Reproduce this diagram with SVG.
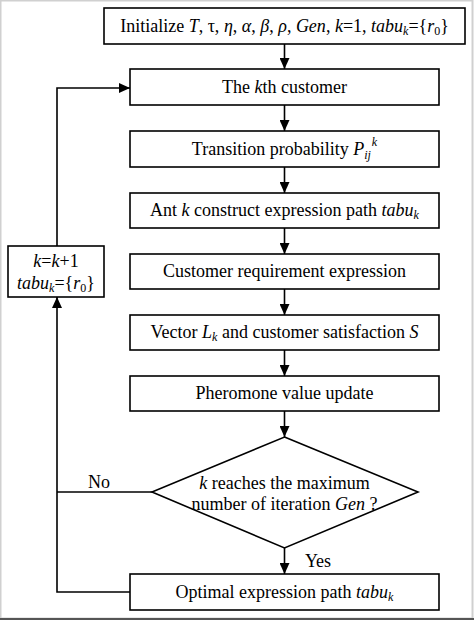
<svg xmlns="http://www.w3.org/2000/svg" width="474" height="620" viewBox="0 0 474 620">
<style>
.b{fill:#fff;stroke:#000;stroke-width:1.6}
.t{font-family:"Liberation Serif","Times New Roman",serif;font-size:18px;fill:#000;text-anchor:middle}
.i{font-style:italic}
.s{font-size:12px}
.c{fill:none;stroke:#000;stroke-width:1.6}
</style>
<defs>
<marker id="ah" markerWidth="11" markerHeight="10" refX="11" refY="5" orient="auto" markerUnits="userSpaceOnUse">
<path d="M0,0 L11,5 L0,10 Z" fill="#000"/>
</marker>
</defs>
<rect x="0" y="0" width="474" height="620" fill="#fff"/>
<rect x="0.5" y="0.5" width="472" height="618" fill="none" stroke="#d0d0d0" stroke-width="2"/>
<line x1="0" y1="619" x2="474" y2="619" stroke="#555" stroke-width="2"/>
<g id="connectors">
<line class="c" x1="284.5" y1="44" x2="284.5" y2="69" marker-end="url(#ah)"/>
<line class="c" x1="284.5" y1="105" x2="284.5" y2="131" marker-end="url(#ah)"/>
<line class="c" x1="284.5" y1="167" x2="284.5" y2="193" marker-end="url(#ah)"/>
<line class="c" x1="284.5" y1="228" x2="284.5" y2="254" marker-end="url(#ah)"/>
<line class="c" x1="284.5" y1="289" x2="284.5" y2="315" marker-end="url(#ah)"/>
<line class="c" x1="284.5" y1="350" x2="284.5" y2="376" marker-end="url(#ah)"/>
<line class="c" x1="284.5" y1="411" x2="284.5" y2="437" marker-end="url(#ah)"/>
<line class="c" x1="284.5" y1="548" x2="284.5" y2="574" marker-end="url(#ah)"/>
<polyline class="c" points="57,246 57,88 130,88" marker-end="url(#ah)"/>
<polyline class="c" points="130,592 57,592 57,297" marker-end="url(#ah)"/>
<line class="c" x1="57" y1="492" x2="152" y2="492"/>
<text class="t" x="99" y="488">No</text>
<text class="t" x="318" y="567">Yes</text>
</g>
<g id="init">
<rect class="b" x="104" y="8" width="361" height="36"/>
<text class="t" x="284.5" y="32">Initialize <tspan class="i">T</tspan>, τ, <tspan class="i">η</tspan>, <tspan class="i">α</tspan>, <tspan class="i">β</tspan>, <tspan class="i">ρ</tspan>, <tspan class="i">Gen</tspan>, <tspan class="i">k</tspan>=1, <tspan class="i">tabu</tspan><tspan class="i s" dy="3">k</tspan><tspan dy="-3">={</tspan><tspan class="i">r</tspan><tspan class="s" dy="3">0</tspan><tspan dy="-3">}</tspan></text>
</g>
<g id="kth">
<rect class="b" x="130" y="69" width="309" height="36"/>
<text class="t" x="284.5" y="93">The <tspan class="i">k</tspan>th customer</text>
</g>
<g id="transition">
<rect class="b" x="130" y="131" width="309" height="36"/>
<text class="t" x="284.5" y="155">Transition probability <tspan class="i">P</tspan><tspan class="i s" dy="4">ij</tspan><tspan class="i s" dx="1" dy="-13">k</tspan></text>
</g>
<g id="ant">
<rect class="b" x="130" y="193" width="309" height="35"/>
<text class="t" x="284.5" y="216">Ant <tspan class="i">k</tspan> construct expression path <tspan class="i">tabu</tspan><tspan class="i s" dy="3">k</tspan></text>
</g>
<g id="requirement">
<rect class="b" x="130" y="254" width="309" height="35"/>
<text class="t" x="284.5" y="277">Customer requirement expression</text>
</g>
<g id="vector">
<rect class="b" x="130" y="315" width="309" height="35"/>
<text class="t" x="284.5" y="338">Vector <tspan class="i">L</tspan><tspan class="i s" dy="3">k</tspan><tspan dy="-3"> and customer satisfaction </tspan><tspan class="i">S</tspan></text>
</g>
<g id="pheromone">
<rect class="b" x="130" y="376" width="309" height="35"/>
<text class="t" x="284.5" y="399">Pheromone value update</text>
</g>
<g id="decision">
<polygon class="b" points="284.5,437 418,492 284.5,548 152,492"/>
<text class="t" x="284.5" y="489"><tspan class="i">k</tspan> reaches the maximum</text>
<text class="t" x="284.5" y="510">number of iteration <tspan class="i">Gen</tspan> ?</text>
</g>
<g id="optimal">
<rect class="b" x="130" y="574" width="309" height="36"/>
<text class="t" x="284.5" y="598">Optimal expression path <tspan class="i">tabu</tspan><tspan class="i s" dy="3">k</tspan></text>
</g>
<g id="update">
<rect class="b" x="8" y="246" width="96" height="51"/>
<text class="t" x="56" y="267"><tspan class="i">k</tspan>=<tspan class="i">k</tspan>+1</text>
<text class="t" x="56" y="289"><tspan class="i">tabu</tspan><tspan class="i s" dy="3">k</tspan><tspan dy="-3">={</tspan><tspan class="i">r</tspan><tspan class="s" dy="3">0</tspan><tspan dy="-3">}</tspan></text>
</g>
</svg>
